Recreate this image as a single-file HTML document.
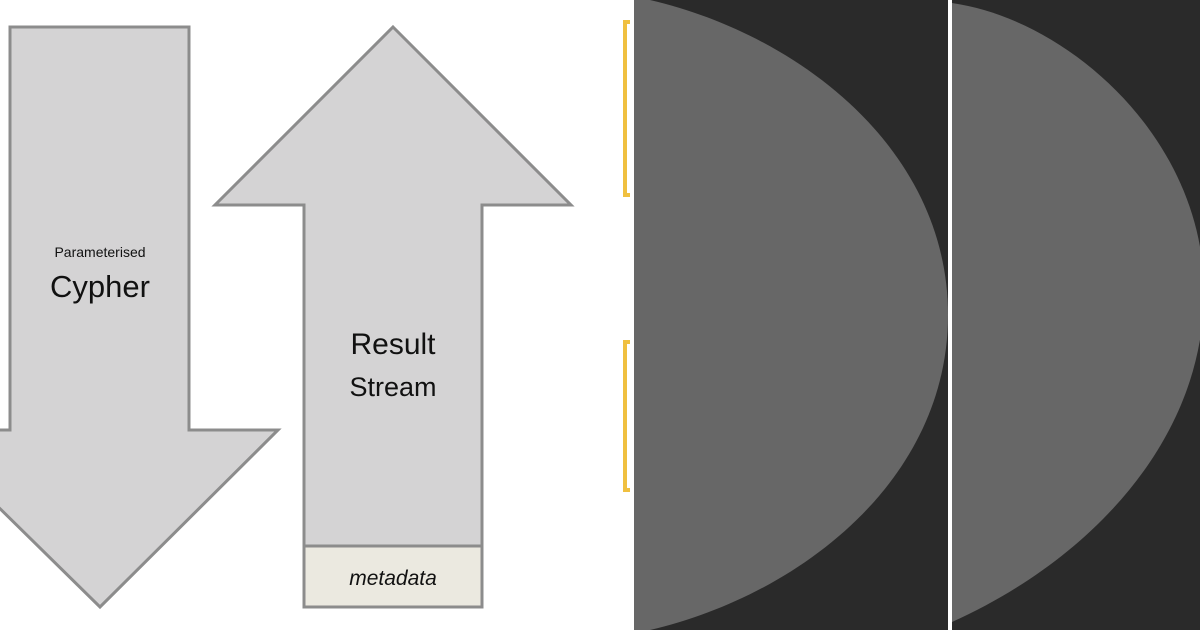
<!DOCTYPE html>
<html><head><style>body{margin:0;width:1200px;height:630px;overflow:hidden;background:#fff}</style></head><body>
<svg width="1200" height="630" viewBox="0 0 1200 630" xmlns="http://www.w3.org/2000/svg">
<rect x="0" y="0" width="1200" height="630" fill="#fff"/>
<polygon points="10,27 189,27 189,430 278,430 100,607 -80,430 10,430" fill="#d4d3d4" stroke="#8c8c8c" stroke-width="3"/>
<text x="100" y="257" text-anchor="middle" font-family="Liberation Sans, sans-serif" font-size="14" fill="#111">Parameterised</text>
<text x="100" y="297" text-anchor="middle" font-family="Liberation Sans, sans-serif" font-size="31" fill="#111">Cypher</text>
<polygon points="393,27 571,205 482,205 482,607 304,607 304,205 215,205" fill="#d4d3d4" stroke="#8c8c8c" stroke-width="3"/>
<rect x="304" y="546" width="178" height="61" fill="#ebe9e0" stroke="#8c8c8c" stroke-width="3"/>
<text x="393" y="354" text-anchor="middle" font-family="Liberation Sans, sans-serif" font-size="30" fill="#111">Result</text>
<text x="393" y="396" text-anchor="middle" font-family="Liberation Sans, sans-serif" font-size="27" fill="#111">Stream</text>
<text x="393" y="585" text-anchor="middle" font-family="Liberation Sans, sans-serif" font-style="italic" font-size="21" fill="#111">metadata</text>
<path d="M630,22 L625,22 L625,195 L630,195" fill="none" stroke="#f0c040" stroke-width="4"/>
<path d="M630,342 L625,342 L625,490 L630,490" fill="none" stroke="#f0c040" stroke-width="4"/>
<rect x="634" y="0" width="314" height="630" fill="#2a2a2a"/>
<rect x="952" y="0" width="248" height="630" fill="#2a2a2a"/>
<path fill="#676767" d="M634,0 L650,0 C800,35 948,150 948,315 C948,480 800,595 650,630 L634,630 Z"/>
<clipPath id="c2"><rect x="952" y="0" width="248" height="630"/></clipPath>
<path fill="#676767" clip-path="url(#c2)" d="M952,3 C1070,20 1204,140 1204,292 C1204,440 1090,560 952,622 Z"/>
</svg>
</body></html>
